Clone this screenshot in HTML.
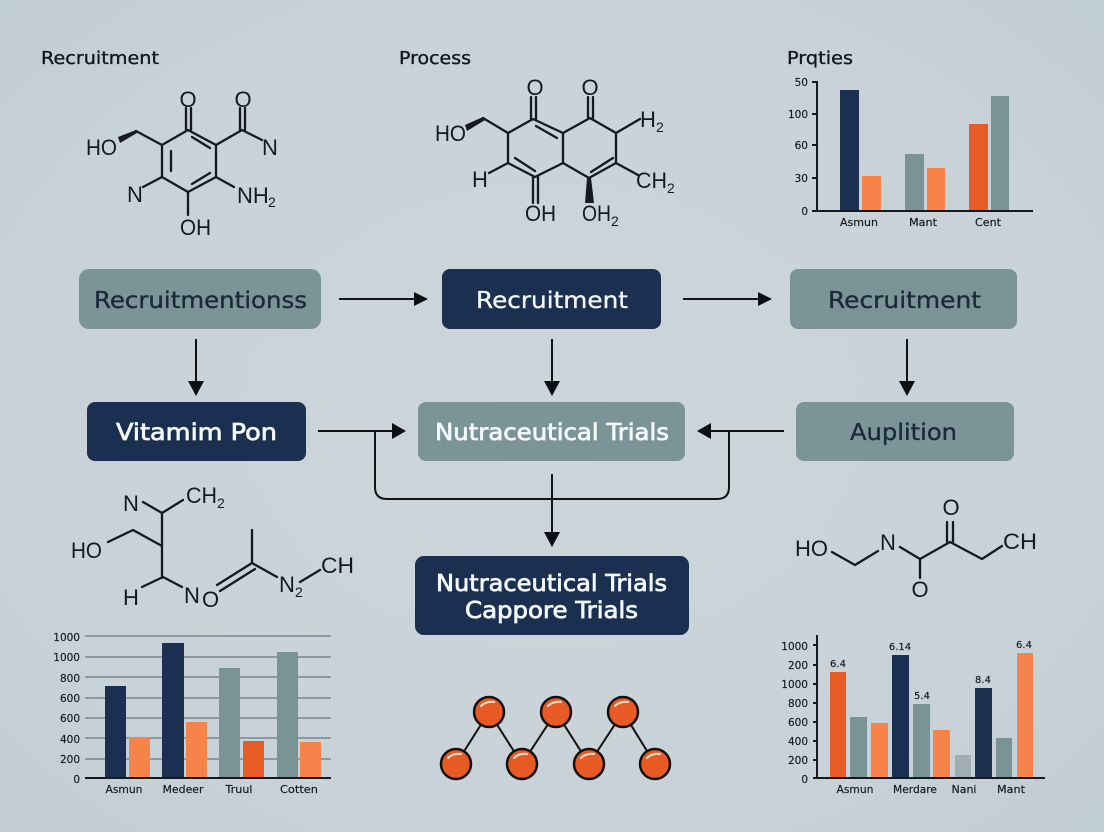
<!DOCTYPE html>
<html lang="en">
<head>
<meta charset="utf-8">
<title>Nutraceutical Trials Diagram</title>
<style>
html,body{margin:0;padding:0;background:#c9d3d9}
svg{display:block;filter:blur(0.35px)}
.a{font-family:"Liberation Sans",Arial,sans-serif;font-size:22px;fill:#141a20}
.s{font-family:"Liberation Sans",Arial,sans-serif;font-size:14px;fill:#141a20}
.t{font-family:"DejaVu Sans",sans-serif;font-size:18px;fill:#111820;stroke:#111820;stroke-width:.35}
.b{font-family:"DejaVu Sans",sans-serif;font-size:23px;stroke-width:.35}
.bb{font-family:"DejaVu Sans",sans-serif;font-size:23px;stroke:#f5f8fa;stroke-width:.75}
.c{font-family:"DejaVu Sans",sans-serif;font-size:10.5px;fill:#111820;stroke:#111820;stroke-width:.15}
.m{fill:none;stroke:#141a20;stroke-width:2.3;stroke-linecap:round;stroke-linejoin:round}
.l{fill:none;stroke:#111;stroke-width:2;stroke-linecap:butt}
.g{stroke:#78868e;stroke-width:1.5}
.ax{stroke:#141a20;stroke-width:2}
.n{fill:#1b3050}.o{fill:#f5834a}.e{fill:#e75b25}.p{fill:#7a9397}.y{fill:#a0adb5}
</style>
</head>
<body>
<svg width="1104" height="832" viewBox="0 0 1104 832" xmlns="http://www.w3.org/2000/svg">
<defs>
<radialGradient id="bg" cx="50%" cy="50%" r="72%">
<stop offset="0%" stop-color="#cbd5da"/><stop offset="70%" stop-color="#c8d2d8"/><stop offset="100%" stop-color="#c0ccd3"/>
</radialGradient>
</defs>
<rect width="1104" height="832" fill="url(#bg)"/>

<!-- Titles -->
<text class="t" x="41" y="64" textLength="118" lengthAdjust="spacingAndGlyphs">Recruitment</text>
<text class="t" x="399" y="64" textLength="72" lengthAdjust="spacingAndGlyphs">Process</text>
<text class="t" x="787" y="64" textLength="66" lengthAdjust="spacingAndGlyphs">Prqties</text>

<!-- Molecule 1 -->
<path class="m" d="M188 130L216 145V177L188 192L162 177V145ZM186 108V130M191 108V130M188 192V215M192 137L210 148M192 184L210 173M171 151V171M162 145L136 131M216 145L242 130L262 140M240 108V130M245 108V130M162 177L143 187M216 177L234 187"/>
<path d="M136 130L118 137L120 143L137 133Z" fill="#141a20"/>
<text class="a" x="86" y="155" textLength="31" lengthAdjust="spacingAndGlyphs">HO</text>
<text class="a" x="188" y="107" text-anchor="middle">O</text>
<text class="a" x="243" y="107" text-anchor="middle">O</text>
<text class="a" x="262" y="155">N</text>
<text class="a" x="127" y="202">N</text>
<text class="a" x="237" y="203">NH</text><text class="s" x="268" y="207">2</text>
<text class="a" x="180" y="235" textLength="31" lengthAdjust="spacingAndGlyphs">OH</text>

<!-- Molecule 2 -->
<path class="m" d="M533 119L563 133V163L535 177L508 163V133ZM563 133L590 118L616 133V163L589 178L563 163M531 97V119M536 97V119M588 97V118M593 97V118M536 126L557 138M515 158L535 171M591 172L613 158M533 177V203M538 177V203M508 133L483 118M616 133L640 119M616 163L638 175M508 163L489 173"/>
<path d="M483 117L465 125L467 131L485 120Z" fill="#141a20"/>
<path d="M587 178H591L594 203H585Z" fill="#141a20"/>
<text class="a" x="535" y="95" text-anchor="middle">O</text>
<text class="a" x="590" y="95" text-anchor="middle">O</text>
<text class="a" x="435" y="141" textLength="31" lengthAdjust="spacingAndGlyphs">HO</text>
<text class="a" x="640" y="127">H</text><text class="s" x="656" y="132">2</text>
<text class="a" x="472" y="187">H</text>
<text class="a" x="636" y="188" textLength="31" lengthAdjust="spacingAndGlyphs">CH</text><text class="s" x="667" y="193">2</text>
<text class="a" x="525" y="221" textLength="31" lengthAdjust="spacingAndGlyphs">OH</text>
<text class="a" x="582" y="221" textLength="29" lengthAdjust="spacingAndGlyphs">OH</text><text class="s" x="611" y="226">2</text>

<!-- Top-right chart -->
<g>
<rect class="n" x="840" y="90" width="19" height="121"/>
<rect class="o" x="862" y="176" width="19" height="35"/>
<rect class="p" x="905" y="154" width="19" height="57"/>
<rect class="o" x="927" y="168" width="18" height="43"/>
<rect class="e" x="969" y="124" width="19" height="87"/>
<rect class="p" x="991" y="96" width="18" height="115"/>
<path class="ax" d="M817 81V212M812 211H1033M812 82H817M812 114H817M812 145H817M812 178H817"/>
<text class="c" x="808" y="86" text-anchor="end">50</text>
<text class="c" x="808" y="118" text-anchor="end">100</text>
<text class="c" x="808" y="149" text-anchor="end">60</text>
<text class="c" x="808" y="182" text-anchor="end">30</text>
<text class="c" x="808" y="215" text-anchor="end">0</text>
<text class="c" x="859" y="226" text-anchor="middle" textLength="38" lengthAdjust="spacingAndGlyphs">Asmun</text>
<text class="c" x="923" y="226" text-anchor="middle" textLength="28" lengthAdjust="spacingAndGlyphs">Mant</text>
<text class="c" x="988" y="226" text-anchor="middle" textLength="26" lengthAdjust="spacingAndGlyphs">Cent</text>
</g>

<!-- Boxes -->
<rect x="79" y="269" width="242" height="60" rx="10" fill="#7a9497"/>
<rect x="442" y="269" width="219" height="60" rx="8" fill="#1b3050"/>
<rect x="790" y="269" width="227" height="60" rx="8" fill="#7a9497"/>
<rect x="87" y="402" width="219" height="59" rx="8" fill="#1b3050"/>
<rect x="418" y="402" width="267" height="59" rx="8" fill="#7a9497"/>
<rect x="796" y="402" width="218" height="59" rx="8" fill="#7a9497"/>
<rect x="415" y="556" width="274" height="79" rx="9" fill="#1b3050"/>

<text class="b" x="94" y="308" fill="#1a2a38" stroke="#1a2a38" textLength="213" lengthAdjust="spacingAndGlyphs">Recruitmentionss</text>
<text class="b" x="476" y="308" fill="#f2f6f8" stroke="#f2f6f8" textLength="152" lengthAdjust="spacingAndGlyphs">Recruitment</text>
<text class="b" x="828" y="308" fill="#1a2a38" stroke="#1a2a38" textLength="153" lengthAdjust="spacingAndGlyphs">Recruitment</text>
<text class="bb" x="116" y="440" fill="#f5f8fa" textLength="161" lengthAdjust="spacingAndGlyphs">Vitamim Pon</text>
<text class="bb" x="435" y="440" fill="#f5f8fa" textLength="234" lengthAdjust="spacingAndGlyphs">Nutraceutical Trials</text>
<text class="b" x="850" y="440" fill="#1a2a38" stroke="#1a2a38" textLength="107" lengthAdjust="spacingAndGlyphs">Auplition</text>
<text class="bb" x="436" y="591" fill="#f5f8fa" textLength="231" lengthAdjust="spacingAndGlyphs">Nutraceutical Trials</text>
<text class="bb" x="465" y="618" fill="#f5f8fa" textLength="173" lengthAdjust="spacingAndGlyphs">Cappore Trials</text>

<!-- Connectors -->
<path class="l" d="M339 299H416M683 299H760M196 339V384M552 339V384M907 339V384M318 431H394M784 431H709M552 474V535M375 431V487Q375 499 387 499H717Q729 499 729 487V431"/>
<g fill="#0c0f14">
<path d="M414 292L428 299L414 306Z"/>
<path d="M758 292L772 299L758 306Z"/>
<path d="M188 381L196 396L204 381Z"/>
<path d="M544 381L552 396L560 381Z"/>
<path d="M899 381L907 396L915 381Z"/>
<path d="M392 423L406 431L392 439Z"/>
<path d="M711 423L697 431L711 439Z"/>
<path d="M544 532L552 547L560 532Z"/>
</g>

<!-- Molecule 3 -->
<path class="m" d="M143 502L162 513L183 500M162 513V578M162 546L133 530L108 542M142 587L163 577L182 587M217 585L252 563M220 591L255 569M252 563V530M252 563L277 577M300 582L320 570"/>
<text class="a" x="123" y="511">N</text>
<text class="a" x="186" y="503" textLength="31" lengthAdjust="spacingAndGlyphs">CH</text><text class="s" x="217" y="508">2</text>
<text class="a" x="71" y="558" textLength="31" lengthAdjust="spacingAndGlyphs">HO</text>
<text class="a" x="123" y="605">H</text>
<text class="a" x="184" y="603">N</text><text class="a" x="202" y="607">O</text>
<text class="a" x="279" y="592">N</text><text class="s" x="295" y="597">2</text>
<text class="a" x="321" y="573" textLength="33" lengthAdjust="spacingAndGlyphs">CH</text>

<!-- Molecule 4 -->
<path class="m" d="M832 552L855 565L878 551M900 547L920 559V578M920 559L950 542L982 559L1002 546M947 522V542M953 522V542"/>
<text class="a" x="795" y="556" textLength="33" lengthAdjust="spacingAndGlyphs">HO</text>
<text class="a" x="880" y="550">N</text>
<text class="a" x="951" y="515" text-anchor="middle">O</text>
<text class="a" x="920" y="597" text-anchor="middle">O</text>
<text class="a" x="1003" y="549" textLength="34" lengthAdjust="spacingAndGlyphs">CH</text>

<!-- Bottom-left chart -->
<g>
<path class="g" d="M85 636H331M85 657H331M85 677H331M85 698H331M85 718H331M85 738H331M85 759H331"/>
<rect class="n" x="105" y="686" width="21" height="92"/>
<rect class="o" x="129" y="737" width="21" height="41"/>
<rect class="n" x="162" y="643" width="22" height="135"/>
<rect class="o" x="186" y="722" width="21" height="56"/>
<rect class="p" x="219" y="668" width="21" height="110"/>
<rect class="e" x="243" y="741" width="21" height="37"/>
<rect class="p" x="277" y="652" width="21" height="126"/>
<rect class="o" x="300" y="742" width="21" height="36"/>
<path class="ax" d="M85 778H331"/>
<g class="c" text-anchor="end">
<text x="80" y="641">1000</text><text x="80" y="661">1000</text><text x="80" y="682">800</text><text x="80" y="702">600</text><text x="80" y="722">600</text><text x="80" y="743">400</text><text x="80" y="763">200</text><text x="80" y="783">0</text>
</g>
<text class="c" x="124" y="793" text-anchor="middle" textLength="37" lengthAdjust="spacingAndGlyphs">Asmun</text>
<text class="c" x="183" y="793" text-anchor="middle" textLength="41" lengthAdjust="spacingAndGlyphs">Medeer</text>
<text class="c" x="239" y="793" text-anchor="middle" textLength="27" lengthAdjust="spacingAndGlyphs">Truul</text>
<text class="c" x="299" y="793" text-anchor="middle" textLength="38" lengthAdjust="spacingAndGlyphs">Cotten</text>
</g>

<!-- Chain of circles -->
<path d="M456 764L489 712L522 764L556 712L589 764L623 712L655 764" fill="none" stroke="#111" stroke-width="2"/>
<g fill="#e85a24" stroke="#14100e" stroke-width="2.5">
<circle cx="489" cy="712" r="15"/><circle cx="556" cy="712" r="15"/><circle cx="623" cy="712" r="15"/>
<circle cx="456" cy="764" r="15"/><circle cx="522" cy="764" r="15"/><circle cx="589" cy="764" r="15"/><circle cx="655" cy="764" r="15"/>
</g>
<g fill="none" stroke="#f9d9c8" stroke-width="2.2" stroke-linecap="round">
<path d="M481 706Q486 701 494 702"/><path d="M548 706Q553 701 561 702"/><path d="M615 706Q620 701 628 702"/>
<path d="M448 758Q453 753 461 754"/><path d="M514 758Q519 753 527 754"/><path d="M581 758Q586 753 594 754"/><path d="M647 758Q652 753 660 754"/>
</g>

<!-- Bottom-right chart -->
<g>
<rect class="e" x="830" y="672" width="16" height="106"/>
<rect class="p" x="850" y="717" width="17" height="61"/>
<rect class="o" x="871" y="723" width="17" height="55"/>
<rect class="n" x="892" y="655" width="17" height="123"/>
<rect class="p" x="913" y="704" width="17" height="74"/>
<rect class="o" x="933" y="730" width="17" height="48"/>
<rect class="y" x="955" y="755" width="16" height="23"/>
<rect class="n" x="975" y="688" width="17" height="90"/>
<rect class="p" x="996" y="738" width="16" height="40"/>
<rect class="o" x="1017" y="653" width="16" height="125"/>
<path class="ax" d="M817 635V779M813 778H1045M813 645H817M813 665H817M813 684H817M813 703H817M813 722H817M813 741H817M813 760H817"/>
<g class="c" text-anchor="end">
<text x="808" y="650">1000</text><text x="808" y="669">200</text><text x="808" y="688">1000</text><text x="808" y="707">800</text><text x="808" y="726">600</text><text x="808" y="745">400</text><text x="808" y="764">200</text><text x="808" y="783">0</text>
</g>
<g class="c" text-anchor="middle" style="font-size:10px">
<text x="838" y="667">6.4</text><text x="900" y="650">6.14</text><text x="922" y="699">5.4</text><text x="983" y="683">8.4</text><text x="1024" y="648">6.4</text>
</g>
<text class="c" x="855" y="793" text-anchor="middle" textLength="37" lengthAdjust="spacingAndGlyphs">Asmun</text>
<text class="c" x="915" y="793" text-anchor="middle" textLength="44" lengthAdjust="spacingAndGlyphs">Merdare</text>
<text class="c" x="964" y="793" text-anchor="middle" textLength="25" lengthAdjust="spacingAndGlyphs">Nani</text>
<text class="c" x="1011" y="793" text-anchor="middle" textLength="28" lengthAdjust="spacingAndGlyphs">Mant</text>
</g>
</svg>
</body>
</html>
